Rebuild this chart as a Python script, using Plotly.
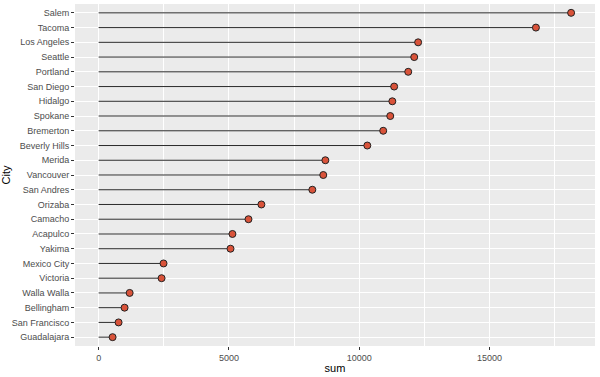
import plotly.graph_objects as go

cities = ["Salem", "Tacoma", "Los Angeles", "Seattle", "Portland", "San Diego",
          "Hidalgo", "Spokane", "Bremerton", "Beverly Hills", "Merida", "Vancouver",
          "San Andres", "Orizaba", "Camacho", "Acapulco", "Yakima", "Mexico City",
          "Victoria", "Walla Walla", "Bellingham", "San Francisco", "Guadalajara"]
sums = [18130, 16780, 12260, 12110, 11880, 11340, 11270, 11190, 10920, 10310,
        8700, 8620, 8200, 6245, 5750, 5135, 5060, 2490, 2415, 1190, 995, 765, 535]

tick_vals = [0, 5000, 10000, 15000]
tick_text = ["0", "5000", "10000", "15000"]

seg_x, seg_y = [], []
for c, v in zip(cities, sums):
    seg_x += [0, v, None]
    seg_y += [c, c, None]

fig = go.Figure()
fig.add_trace(go.Scatter(x=seg_x, y=seg_y, mode="lines",
                         line=dict(color="#2b2b2b", width=1), hoverinfo="skip"))
fig.add_trace(go.Scatter(x=sums, y=cities, mode="markers",
                         marker=dict(size=7, color="#D9533A",
                                     line=dict(color="#222222", width=1))))

order = list(reversed(cities))
fig.update_layout(
    width=600, height=377,
    margin=dict(l=75, r=5, t=4, b=31),
    plot_bgcolor="#EBEBEB", paper_bgcolor="white",
    showlegend=False,
    font=dict(family="Liberation Sans, Arial, sans-serif"),
)
fig.update_xaxes(
    automargin=False,
    range=[-907, 19047], tickvals=tick_vals, ticktext=tick_text,
    showgrid=True, gridcolor="white", gridwidth=1.1, zeroline=False,
    ticks="outside", ticklen=3, tickcolor="#333333", tickwidth=1,
    tickfont=dict(size=9, color="#4D4D4D"),
    minor=dict(tickvals=[2500, 7500, 12500, 17500], showgrid=True,
               gridcolor="white", gridwidth=0.5, ticks=""),
    title=dict(text="sum", font=dict(size=11, color="black"), standoff=2),
)
fig.update_yaxes(
    automargin=False,
    categoryorder="array", categoryarray=order, range=[-0.6, 22.6],
    showgrid=True, gridcolor="white", gridwidth=1.1, zeroline=False,
    ticks="outside", ticklen=3, tickcolor="#333333", tickwidth=1,
    tickfont=dict(size=9, color="#4D4D4D"),
    title=dict(text="City", font=dict(size=11, color="black"), standoff=3),
)

fig.write_html("out.html",
               config={"displayModeBar": False},
               post_script="document.body.style.margin='0';document.body.style.overflow='hidden';")
